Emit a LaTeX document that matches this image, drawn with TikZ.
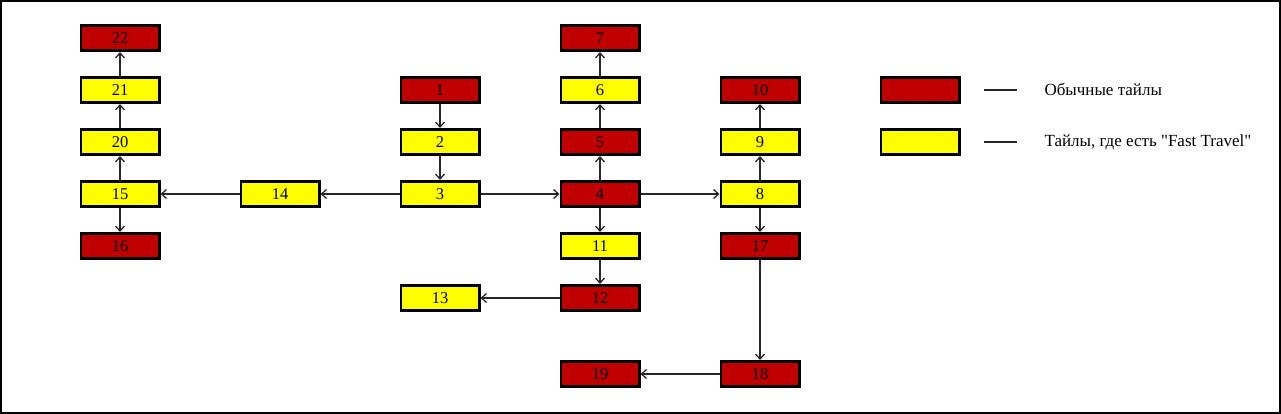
\documentclass[tikz,border=0pt]{standalone}
\usepackage{fontspec}
\setmainfont{Liberation Serif}[Ligatures=TeXOff]
\usepackage{xcolor}
\usepackage{tikz}
\usetikzlibrary{arrows.meta, positioning}

\definecolor{tilered}{RGB}{192,0,0}
\definecolor{tileyellow}{RGB}{255,255,0}
\definecolor{linegray}{RGB}{40,40,40}

\tikzset{
    tile/.style={draw=black, line width=2.6pt, minimum width=78.4pt,
        minimum height=25.4pt, inner sep=0pt,
        font=\fontsize{16.5}{18}\selectfont},
    plain/.style={tile, fill=tilered},
    fast/.style={tile, fill=tileyellow},
    link/.style={->, draw=linegray, line width=1.3pt},
}

\begin{document}
\begin{tikzpicture}[x=1pt, y=-1pt, >={Straight Barb[length=5pt, width=9pt]}]
    \useasboundingbox (0,0) rectangle (1281,414);
    \draw[line width=2pt] (1,1) rectangle (1280,413);

    % Ô bên trái
    \node[plain] (t22) at (120,38) {22};
    \node[fast]  (t21) at (120,90) {21};
    \node[fast]  (t20) at (120,142) {20};
    \node[fast]  (t15) at (120,194) {15};
    \node[plain] (t16) at (120,246) {16};
    \node[fast]  (t14) at (280,194) {14};

    % Cột giữa
    \node[plain] (t1)  at (440,90) {1};
    \node[fast]  (t2)  at (440,142) {2};
    \node[fast]  (t3)  at (440,194) {3};
    \node[fast]  (t13) at (440,298) {13};

    \node[plain] (t7)  at (600,38) {7};
    \node[fast]  (t6)  at (600,90) {6};
    \node[plain] (t5)  at (600,142) {5};
    \node[plain] (t4)  at (600,194) {4};
    \node[fast]  (t11) at (600,246) {11};
    \node[plain] (t12) at (600,298) {12};
    \node[plain] (t19) at (600,374) {19};

    % Cột phải
    \node[plain] (t10) at (760,90) {10};
    \node[fast]  (t9)  at (760,142) {9};
    \node[fast]  (t8)  at (760,194) {8};
    \node[plain] (t17) at (760,246) {17};
    \node[plain] (t18) at (760,374) {18};

    % Chú thích
    \node[plain] (lr) at (920,90) {};
    \node[fast]  (ly) at (920,142) {};
    \coordinate (lra) at (984,90);
    \coordinate (lrb) at (1017,90);
    \coordinate (lya) at (984,142);
    \coordinate (lyb) at (1017,142);
    \draw[draw=linegray, line width=1.3pt] (lra) -- (lrb);
    \draw[draw=linegray, line width=1.3pt] (lya) -- (lyb);
    \node[anchor=west, font=\fontsize{17}{19}\selectfont] (lrt) at (1041,90) {Обычные тайлы};
    \node[anchor=west, font=\fontsize{17}{19}\selectfont] (lyt) at (1041,142)
        {Тайлы, где есть "Fast Travel"};

    % Các mũi tên
    \draw[link] (t1) -- (t2);
    \draw[link] (t2) -- (t3);
    \draw[link] (t3) -- (t4);
    \draw[link] (t3) -- (t14);
    \draw[link] (t14) -- (t15);
    \draw[link] (t15) -- (t20);
    \draw[link] (t20) -- (t21);
    \draw[link] (t21) -- (t22);
    \draw[link] (t15) -- (t16);
    \draw[link] (t4) -- (t5);
    \draw[link] (t5) -- (t6);
    \draw[link] (t6) -- (t7);
    \draw[link] (t4) -- (t11);
    \draw[link] (t11) -- (t12);
    \draw[link] (t12) -- (t13);
    \draw[link] (t4) -- (t8);
    \draw[link] (t8) -- (t9);
    \draw[link] (t9) -- (t10);
    \draw[link] (t8) -- (t17);
    \draw[link] (t17) -- (t18);
    \draw[link] (t18) -- (t19);
\end{tikzpicture}
\end{document}
